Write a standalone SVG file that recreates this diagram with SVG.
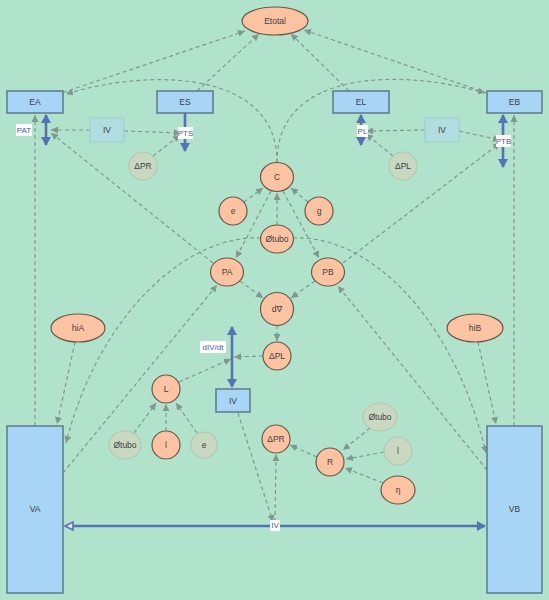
<svg xmlns="http://www.w3.org/2000/svg" width="549" height="600" viewBox="0 0 549 600">
<defs>
<style>
.bg{fill:#b1e3cc}
.stock{fill:#a8d4f6;stroke:#5f7888;stroke-width:1.5}
.ghost{fill:#b2dde0;stroke:#9ccccc;stroke-width:1}
.aux{fill:#fcc3a2;stroke:#6a5848;stroke-width:1.2}
.gaux{fill:#c9d8c0;stroke:#b2c8b2;stroke-width:1.2}
.t{font-family:"Liberation Sans","DejaVu Sans",sans-serif;font-size:8.5px;fill:#3e3e46;text-anchor:middle;dominant-baseline:central}
.lbl{font-family:"Liberation Sans","DejaVu Sans",sans-serif;font-size:8px;fill:#4a5a9a;text-anchor:middle;dominant-baseline:central}
.lb{fill:#ffffff}
.c{fill:none;stroke:#7f9890;stroke-width:1.2;stroke-dasharray:4 3;marker-end:url(#ah)}
.f{fill:none;stroke:#5472b4;stroke-width:2.6}
</style>
<marker id="ah" markerUnits="userSpaceOnUse" markerWidth="8" markerHeight="7" refX="7" refY="3.5" orient="auto"><path d="M0,0 L7,3.5 L0,7 z" fill="#7f9890"/></marker>
<marker id="fa" markerUnits="userSpaceOnUse" markerWidth="10" markerHeight="10" refX="8" refY="5" orient="auto-start-reverse"><path d="M0,0 L9,5 L0,10 z" fill="#5472b4"/></marker>
<marker id="fh" markerUnits="userSpaceOnUse" markerWidth="11" markerHeight="11" refX="8" refY="5" orient="auto-start-reverse"><path d="M1,1 L9,5 L1,9 z" fill="#dfe8f6" stroke="#5472b4" stroke-width="1.6"/></marker>
</defs>
<rect class="bg" x="0" y="0" width="549" height="600"/>

<g id="connectors">
<path class="c" d="M63,92.5 L245,31"/>
<path class="c" d="M197,91 L259,34"/>
<path class="c" d="M349,91 L291,34"/>
<path class="c" d="M487,93 L304,30"/>
<path class="c" d="M277,163 C278,70 150,68 66,94"/>
<path class="c" d="M277,163 C276,70 400,68 485,93"/>
<path class="c" d="M90,130 L51,130"/>
<path class="c" d="M124,131 L181,133"/>
<path class="c" d="M153,156 L180,135"/>
<path class="c" d="M213,263 L51,133"/>
<path class="c" d="M425,130 L366,131"/>
<path class="c" d="M393,156 L366,134"/>
<path class="c" d="M459,131 L500,140"/>
<path class="c" d="M343,263 L500,143"/>
<path class="c" d="M35,426 L35,115"/>
<path class="c" d="M514,426 L514,115"/>
<path class="c" d="M244,202 L263,188"/>
<path class="c" d="M308,202 L291,188"/>
<path class="c" d="M277,225 L277,193"/>
<path class="c" d="M271,191 L236,258"/>
<path class="c" d="M283,191 L319,258"/>
<path class="c" d="M240,281 L263,298"/>
<path class="c" d="M315,281 L291,298"/>
<path class="c" d="M277,325 L277,341"/>
<path class="c" d="M263,356 L234,357"/>
<path class="c" d="M179,382 L231,359"/>
<path class="c" d="M261,238 C190,234 100,310 66,443"/>
<path class="c" d="M293,238 C364,234 452,310 486,453"/>
<path class="c" d="M63,473 L217,285"/>
<path class="c" d="M487,470 L338,286"/>
<path class="c" d="M75,342 L57,424"/>
<path class="c" d="M478,342 L496,424"/>
<path class="c" d="M134,433 L156,403"/>
<path class="c" d="M166,431 L166,404"/>
<path class="c" d="M197,433 L176,403"/>
<path class="c" d="M238,413 L273,522"/>
<path class="c" d="M275,522 L276,454"/>
<path class="c" d="M317,457 L290,445"/>
<path class="c" d="M370,428 L343,450"/>
<path class="c" d="M384,452 L346,459"/>
<path class="c" d="M383,483 L345,468"/>
</g>

<g id="flows">
<line class="f" x1="46" y1="115" x2="46" y2="145" marker-start="url(#fa)" marker-end="url(#fa)"/>
<line class="f" x1="185" y1="113" x2="185" y2="151" marker-end="url(#fa)"/>
<line class="f" x1="361" y1="115" x2="361" y2="145" marker-start="url(#fa)" marker-end="url(#fa)"/>
<line class="f" x1="503" y1="115" x2="503" y2="167" marker-start="url(#fa)" marker-end="url(#fa)"/>
<line class="f" x1="232" y1="327" x2="232" y2="387" marker-start="url(#fa)" marker-end="url(#fa)"/>
<line class="f" x1="66" y1="526" x2="485" y2="526" marker-start="url(#fh)" marker-end="url(#fa)"/>
</g>

<g id="flow-labels">
<rect class="lb" x="16" y="124" width="16" height="12"/><text class="lbl" x="24" y="130">PAT</text>
<rect class="lb" x="178" y="127" width="15" height="12"/><text class="lbl" x="185.5" y="133">PTS</text>
<rect class="lb" x="357" y="125" width="11" height="12"/><text class="lbl" x="362.5" y="131">PL</text>
<rect class="lb" x="496" y="135" width="15" height="12"/><text class="lbl" x="503.5" y="141">PTB</text>
<rect class="lb" x="200" y="341" width="26" height="12"/><text class="lbl" x="213" y="347">dIV/dt</text>
<rect class="lb" x="270" y="520" width="10" height="11"/><text class="lbl" x="275" y="525.5">IV</text>
</g>

<g id="Etotal"><ellipse class="aux" cx="275" cy="21" rx="33" ry="14"/><text class="t" x="275" y="21">Etotal</text></g>
<g id="EA"><rect class="stock" x="7" y="91" width="56" height="22"/><text class="t" x="35" y="102">EA</text></g>
<g id="ES"><rect class="stock" x="157" y="91" width="56" height="22"/><text class="t" x="185" y="102">ES</text></g>
<g id="EL"><rect class="stock" x="333" y="91" width="56" height="22"/><text class="t" x="361" y="102">EL</text></g>
<g id="EB"><rect class="stock" x="487" y="91" width="55" height="22"/><text class="t" x="514.5" y="102">EB</text></g>
<g id="IV1"><rect class="ghost" x="90" y="118" width="34" height="24"/><text class="t" x="107" y="130">IV</text></g>
<g id="IV2"><rect class="ghost" x="425" y="118" width="34" height="24"/><text class="t" x="442" y="130">IV</text></g>
<g id="dPR1"><circle class="gaux" cx="143" cy="166" r="14"/><text class="t" x="143" y="166">ΔPR</text></g>
<g id="dPL1"><circle class="gaux" cx="403" cy="166" r="14"/><text class="t" x="403" y="166">ΔPL</text></g>
<g id="C"><ellipse class="aux" cx="277" cy="177" rx="16.5" ry="14.5"/><text class="t" x="277" y="177">C</text></g>
<g id="e"><circle class="aux" cx="233" cy="211" r="14"/><text class="t" x="233" y="211">e</text></g>
<g id="g"><circle class="aux" cx="319" cy="211" r="14"/><text class="t" x="319" y="211">g</text></g>
<g id="Otubo"><ellipse class="aux" cx="277" cy="239" rx="16.5" ry="14"/><text class="t" x="277" y="239">Øtubo</text></g>
<g id="PA"><ellipse class="aux" cx="227" cy="272" rx="16.5" ry="14"/><text class="t" x="227" y="272">PA</text></g>
<g id="PB"><ellipse class="aux" cx="328" cy="272" rx="16.5" ry="14"/><text class="t" x="328" y="272">PB</text></g>
<g id="dV"><circle class="aux" cx="277" cy="309" r="16.5"/><text class="t" x="277" y="309">d∇</text></g>
<g id="dPL2"><circle class="aux" cx="277" cy="356" r="14"/><text class="t" x="277" y="356">ΔPL</text></g>
<g id="IV3"><rect class="stock" x="216" y="389" width="34" height="23"/><text class="t" x="233" y="400.5">IV</text></g>
<g id="hiA"><ellipse class="aux" cx="78" cy="328" rx="27" ry="14"/><text class="t" x="78" y="328">hiA</text></g>
<g id="hiB"><ellipse class="aux" cx="475" cy="328" rx="28" ry="14"/><text class="t" x="475" y="328">hiB</text></g>
<g id="L"><circle class="aux" cx="166" cy="389" r="14"/><text class="t" x="166" y="389">L</text></g>
<g id="Otubo2"><ellipse class="gaux" cx="125" cy="445" rx="16" ry="14"/><text class="t" x="125" y="445">Øtubo</text></g>
<g id="l"><circle class="aux" cx="166" cy="445" r="14"/><text class="t" x="166" y="445">l</text></g>
<g id="e2"><circle class="gaux" cx="204" cy="445" r="13"/><text class="t" x="204" y="445">e</text></g>
<g id="VA"><rect class="stock" x="7" y="426" width="56" height="167"/><text class="t" x="35" y="509">VA</text></g>
<g id="VB"><rect class="stock" x="487" y="426" width="55" height="167"/><text class="t" x="514.5" y="509">VB</text></g>
<g id="dPR2"><circle class="aux" cx="276" cy="439" r="14"/><text class="t" x="276" y="439">ΔPR</text></g>
<g id="R"><circle class="aux" cx="330" cy="462" r="14"/><text class="t" x="330" y="462">R</text></g>
<g id="Otubo3"><ellipse class="gaux" cx="380" cy="417" rx="17" ry="14"/><text class="t" x="380" y="417">Øtubo</text></g>
<g id="l2"><circle class="gaux" cx="398" cy="451" r="14"/><text class="t" x="398" y="451">l</text></g>
<g id="eta"><ellipse class="aux" cx="398" cy="490" rx="17" ry="14"/><text class="t" x="398" y="490">η</text></g>
</svg>
